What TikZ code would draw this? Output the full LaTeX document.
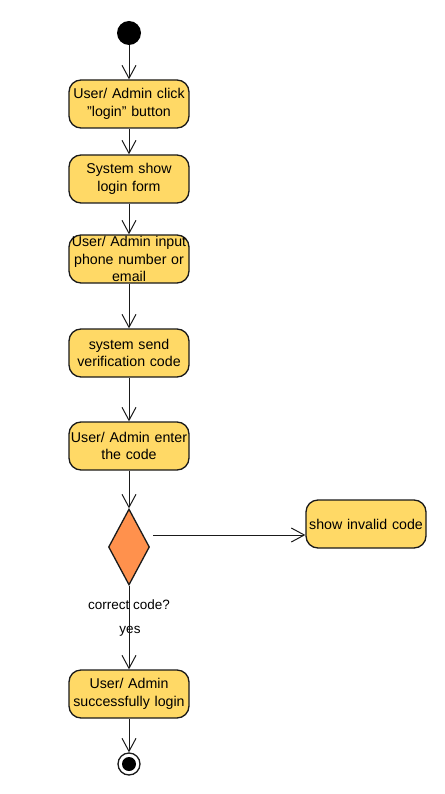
\documentclass[tikz,border=0pt]{standalone}
\usepackage{fontspec}
\setmainfont{Liberation Sans}
\usetikzlibrary{arrows.meta,positioning,shapes.geometric}
\definecolor{actfill}{HTML}{FFD966}
\definecolor{decfill}{HTML}{FF914D}
\definecolor{linecol}{HTML}{1A1A1A}

\tikzset{
  actbox/.style={draw=linecol,line width=1.3pt,fill=actfill,rounded corners=12pt,
    minimum width=120pt,minimum height=48pt,text width=112pt,align=center,inner sep=0pt,
    font=\fontsize{14.2}{17.5}\selectfont},
  flow/.style={draw=linecol,line width=1pt,-{Straight Barb[length=13pt,width=14pt,line width=1pt]}},
  lbl/.style={font=\fontsize{13.5}{15}\selectfont,inner sep=0pt},
}
\newcommand{\wide}[1]{\makebox[\linewidth]{#1}}

\begin{document}
\begin{tikzpicture}[x=1pt,y=-1pt]
  \useasboundingbox (0,0) rectangle (444,794);

  % start
  \node[circle,fill=black,minimum size=24pt,inner sep=0pt] (start) at (129,33) {};

  % activities
  \node[actbox] (click) at (129,104) {User/ Admin click\\"login" button};
  \node[actbox] (form) at (129,179) {System show\\login form};
  \node[actbox] (input) at (129,259) {\wide{User/ Admin input}\\phone number or\\email};
  \node[actbox] (send) at (129,353) {system send\\\wide{verification code}};
  \node[actbox] (enter) at (129,446) {\wide{User/ Admin enter}\\the code};

  % decision
  \node[diamond,draw=linecol,line width=1.3pt,fill=decfill,minimum width=41pt,minimum height=76pt,inner sep=0pt] (check) at (129,547) {};
  \node[lbl] (cclbl) at (129,605) {correct code?};
  \node[lbl] (yeslbl) at (130,631) {yes};
  \node[actbox] (invalid) at (366,524) {\wide{show invalid code}};
  \coordinate (chkout) at (153,535);

  \node[actbox] (success) at (129,694) {User/ Admin\\\wide{successfully login}};

  % end
  \node[circle,draw=linecol,line width=1.3pt,fill=white,minimum size=22pt,inner sep=0pt] (stop) at (129,764) {};
  \node[circle,fill=black,minimum size=14pt,inner sep=0pt] (stopin) at (stop.center) {};

  % connectors
  \draw[flow] (start) -- (click);
  \draw[flow] (click) -- (form);
  \draw[flow] (form) -- (input);
  \draw[flow] (input) -- (send);
  \draw[flow] (send) -- (enter);
  \draw[flow] (enter) -- (check);
  \draw[flow] (chkout) -- (chkout -| invalid.west);
  \draw[flow] (check) -- (success);
  \draw[flow] (success) -- (stop);
\end{tikzpicture}
\end{document}
